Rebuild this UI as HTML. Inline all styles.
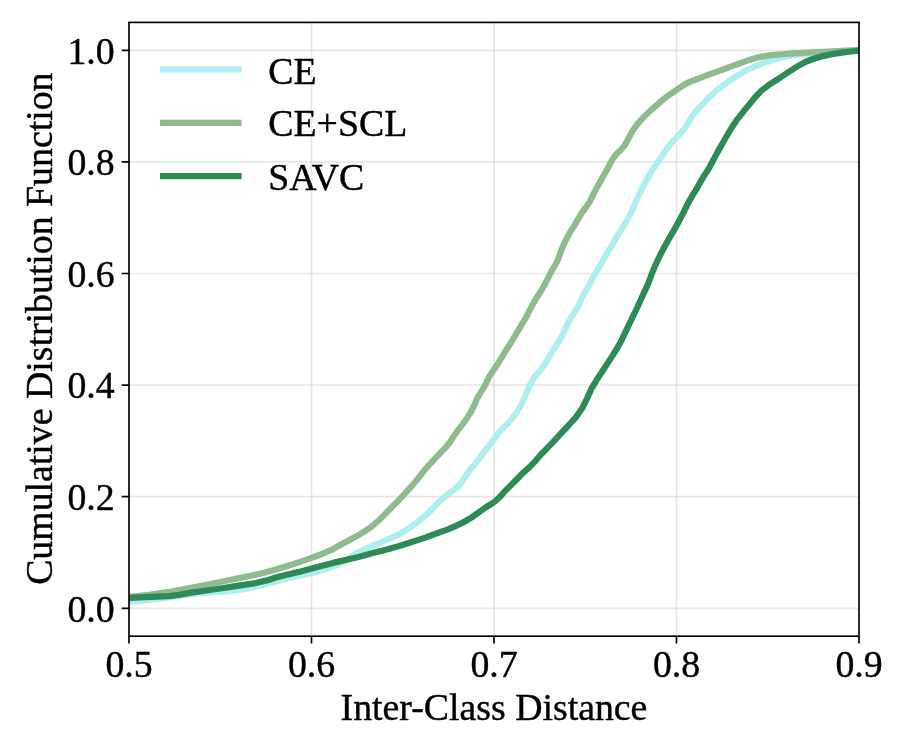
<!DOCTYPE html>
<html><head><meta charset="utf-8"><title>CDF</title>
<style>html,body{margin:0;padding:0;background:#fff;}svg{display:block;}</style>
</head><body>
<svg width="905" height="754" viewBox="0 0 905 754">
<rect width="905" height="754" fill="#fff"/>
<defs><clipPath id="ax"><rect x="129.00" y="22.40" width="730.00" height="613.80"/></clipPath></defs>
<g stroke="#b0b0b0" stroke-opacity="0.3" stroke-width="1.67" fill="none"><path d="M311.50 22.4V636.2"/><path d="M494.00 22.4V636.2"/><path d="M676.50 22.4V636.2"/><path d="M129.0 608.30H859.0"/><path d="M129.0 496.70H859.0"/><path d="M129.0 385.10H859.0"/><path d="M129.0 273.50H859.0"/><path d="M129.0 161.90H859.0"/><path d="M129.0 50.30H859.0"/></g>
<g clip-path="url(#ax)" fill="none" stroke-width="6.25" stroke-linejoin="round" stroke-linecap="butt">
<polyline points="109.0,602.3 129.0,601.8 148.9,599.8 168.8,597.3 182.0,595.3 193.1,593.8 207.7,592.5 222.5,591.6 236.0,590.4 248.1,588.3 258.0,585.9 266.9,583.8 275.7,581.5 285.7,578.8 298.9,575.8 314.3,572.4 327.5,568.6 337.5,564.7 345.2,561.0 350.7,557.2 355.1,554.0 359.5,551.8 365.0,549.2 372.7,545.8 381.5,542.2 390.4,538.5 399.2,534.2 408.0,529.1 416.9,522.5 424.9,515.9 430.6,510.9 435.1,506.0 440.6,500.2 447.0,495.1 451.9,491.2 456.1,488.2 460.4,484.0 464.5,477.7 469.1,470.9 474.5,464.6 479.5,458.2 484.2,451.8 489.2,445.5 494.0,439.1 498.4,433.1 503.2,428.0 508.6,422.6 514.0,416.1 518.7,409.5 522.1,403.2 524.9,396.8 527.6,390.5 530.4,384.1 533.7,378.1 537.9,373.0 542.2,367.9 546.0,362.2 549.6,355.9 553.6,349.6 557.7,343.2 561.5,336.8 564.6,330.5 567.6,324.1 571.1,317.7 574.8,311.8 578.0,306.7 580.1,301.8 582.8,295.9 586.5,289.6 590.1,283.2 593.4,276.8 597.0,270.5 601.0,264.1 604.5,257.7 607.9,251.8 611.2,246.7 614.0,241.8 617.2,235.9 621.2,229.6 625.2,223.2 629.0,216.8 632.2,210.5 634.9,204.1 637.6,197.7 640.4,191.8 643.1,186.7 645.7,181.8 648.9,175.9 652.7,169.6 656.9,163.2 661.3,156.8 665.6,150.5 670.6,144.1 676.4,137.7 682.0,131.8 686.1,126.4 689.3,120.8 693.2,114.6 698.4,108.6 703.4,103.5 708.2,98.2 714.8,91.9 722.7,85.6 729.8,80.6 736.4,76.2 744.5,71.3 753.0,67.2 760.9,64.1 768.9,61.2 776.8,58.6 784.8,56.6 792.7,55.4 802.3,54.6 816.4,53.6 836.0,52.1 859.0,50.3" stroke="#afeeee"/>
<polyline points="109.0,597.5 129.0,597.0 148.9,594.8 171.0,591.6 190.9,587.9 206.6,584.7 219.9,582.0 233.5,579.2 249.0,576.1 264.2,572.8 275.7,569.6 284.6,566.8 294.4,563.8 306.5,559.6 319.8,554.8 331.4,549.9 340.2,545.1 348.0,540.8 355.9,536.6 363.9,531.9 371.4,526.7 378.0,521.2 383.8,515.4 389.5,509.4 395.4,503.6 401.4,497.4 407.3,490.9 413.0,484.6 418.2,478.2 423.2,471.8 428.6,465.5 434.5,459.1 440.7,452.7 446.3,446.8 450.3,441.7 453.4,436.8 457.4,430.9 462.4,424.6 467.0,418.2 470.9,411.8 474.2,405.5 476.9,399.1 480.2,393.1 483.8,387.6 486.6,382.1 489.2,376.8 493.0,370.9 497.4,364.6 501.3,358.2 505.0,351.8 509.1,345.5 513.1,339.1 516.8,332.7 520.3,326.8 523.5,321.7 526.3,316.8 529.3,310.9 532.6,304.6 536.4,298.2 540.5,291.8 544.3,285.5 547.5,279.1 550.7,272.7 554.2,266.8 557.0,261.7 559.0,256.8 561.1,250.9 563.7,244.6 566.8,238.2 570.4,231.8 574.4,225.5 578.1,219.1 581.9,212.7 586.2,206.8 589.8,201.7 592.1,196.8 595.1,190.9 598.6,184.6 602.1,178.2 605.8,171.8 609.2,165.5 612.4,159.5 616.0,154.6 620.1,150.6 623.9,146.3 627.5,140.3 632.0,131.8 637.7,123.6 644.3,116.4 651.8,109.3 659.8,102.3 667.7,95.9 674.8,91.2 679.7,87.8 684.2,84.6 690.9,81.4 698.9,78.3 706.8,75.3 715.1,72.4 723.1,69.5 730.5,66.7 737.9,64.0 745.3,61.4 753.0,58.8 760.9,56.8 768.9,55.4 776.8,54.6 784.8,54.0 792.7,53.4 802.7,52.8 818.0,52.0 837.0,51.0 851.9,50.3 859.0,50.1" stroke="#8fbc8f"/>
<polyline points="109.0,598.4 129.0,597.9 151.1,596.9 169.0,596.1 179.0,594.9 189.6,592.9 206.4,590.5 223.6,588.0 240.4,585.4 255.8,583.0 266.9,580.4 275.7,577.6 285.7,575.0 298.9,571.9 315.4,567.6 333.0,562.9 348.5,559.2 358.4,557.0 365.0,555.2 372.7,553.1 381.5,550.9 390.4,548.4 399.2,545.9 408.0,543.3 416.9,540.4 425.3,537.6 432.9,534.8 440.2,532.1 448.0,529.4 455.9,525.9 463.9,522.0 471.4,517.6 478.2,512.7 484.6,508.2 490.5,504.5 495.6,501.0 499.7,497.1 504.2,491.9 510.5,485.6 517.1,479.0 523.0,472.9 529.0,467.6 535.0,461.4 540.9,454.4 546.7,448.7 553.0,442.1 560.8,433.6 568.9,425.0 576.4,416.6 582.5,407.7 587.1,398.4 591.5,388.6 596.7,379.8 602.1,371.8 607.2,363.9 612.4,355.9 617.3,348.0 621.8,339.7 625.9,331.2 629.8,323.0 633.6,315.0 637.5,307.0 641.1,299.1 644.7,291.1 648.0,284.1 650.3,278.0 652.9,270.9 656.4,263.0 660.2,255.0 664.4,247.0 668.8,239.1 673.4,231.1 678.5,222.1 683.7,212.0 688.2,203.0 692.4,195.6 696.2,189.5 699.6,183.3 704.0,175.9 708.8,168.4 713.1,160.5 717.8,151.6 722.7,143.0 727.3,135.0 732.1,127.0 737.5,119.1 743.8,111.1 749.5,104.2 754.5,98.0 760.9,91.1 768.9,84.9 776.8,79.8 784.8,74.5 792.7,69.3 799.8,64.9 805.9,61.7 813.7,58.8 822.8,56.1 831.8,54.2 841.7,52.7 851.4,51.5 859.0,50.5" stroke="#2e8b57"/>
</g>
<rect x="129.0" y="22.4" width="730.0" height="613.8000000000001" fill="none" stroke="#000" stroke-width="1.67" stroke-linejoin="miter"/>
<path d="M129.00 636.2v7.29M311.50 636.2v7.29M494.00 636.2v7.29M676.50 636.2v7.29M859.00 636.2v7.29M129.0 608.30h-7.29M129.0 496.70h-7.29M129.0 385.10h-7.29M129.0 273.50h-7.29M129.0 161.90h-7.29M129.0 50.30h-7.29" stroke="#000" stroke-width="1.67" fill="none"/>
<g font-family="'Liberation Serif','Times New Roman',serif" font-size="37.8" fill="#000" stroke="#000" stroke-width="0.4">
<text x="129.00" y="677.0" text-anchor="middle">0.5</text>
<text x="311.50" y="677.0" text-anchor="middle">0.6</text>
<text x="494.00" y="677.0" text-anchor="middle">0.7</text>
<text x="676.50" y="677.0" text-anchor="middle">0.8</text>
<text x="859.00" y="677.0" text-anchor="middle">0.9</text>
<text x="114.7" y="621.50" text-anchor="end">0.0</text>
<text x="114.7" y="509.90" text-anchor="end">0.2</text>
<text x="114.7" y="398.30" text-anchor="end">0.4</text>
<text x="114.7" y="286.70" text-anchor="end">0.6</text>
<text x="114.7" y="175.10" text-anchor="end">0.8</text>
<text x="114.7" y="63.50" text-anchor="end">1.0</text>
<text x="494" y="719.7" text-anchor="middle">Inter-Class Distance</text>
<text transform="translate(51.5 328.7) rotate(-90)" text-anchor="middle">Cumulative Distribution Function</text>
<path d="M160 69.4H241.6" stroke="#afeeee" stroke-width="6.25"/>
<text x="268.3" y="83.8">CE</text>
<path d="M160 122.8H241.6" stroke="#8fbc8f" stroke-width="6.25"/>
<text x="268.3" y="135.6">CE+SCL</text>
<path d="M160 176.0H241.6" stroke="#2e8b57" stroke-width="6.25"/>
<text x="268.3" y="190.2">SAVC</text>
</g>
</svg>
</body></html>
